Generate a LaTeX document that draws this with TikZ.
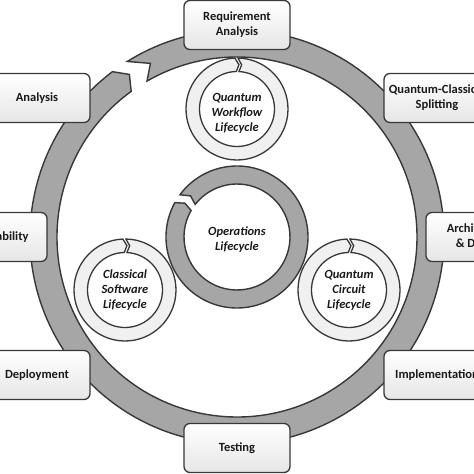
\documentclass[tikz,border=0pt]{standalone}
\usepackage{fontspec}
\setmainfont{Carlito}
\usepackage{tikz}
\usetikzlibrary{positioning, calc}
\definecolor{bordo}{HTML}{383838}
\definecolor{grigioanello}{HTML}{A6A6A6}
\definecolor{grigiochiaro}{HTML}{F0F0F0}
\definecolor{fondobox}{HTML}{E6E6E6}
\tikzset{
  fase/.style = {draw=bordo, line width=1.3pt, rounded corners=6pt,
    minimum width=106pt, minimum height=49pt, top color=white,
    bottom color=fondobox, align=center,
    font=\fontsize{12.5}{15}\selectfont\bfseries, text=black!90},
  ciclo/.style = {align=center,
    font=\fontsize{12.5}{15}\selectfont\bfseries\itshape, text=black!90},
  anellogrande/.style = {fill=grigioanello, draw=bordo, line width=1.4pt, line join=miter},
  anellopiccolo/.style = {fill=grigiochiaro, draw=bordo, line width=1.3pt, line join=miter}
}

\begin{document}
\begin{tikzpicture}[x = 1pt, y = 1pt]

    % Cornice
    \useasboundingbox (-237,-237) rectangle (237,237);
    \clip (-237,-237) rectangle (237,237);

    % Anello esterno
    \filldraw[anellogrande] (122:207) arc[start angle=122, end angle=-233, radius=207]
        -- (-236.5:195) -- (-234:180) arc[start angle=-234, end angle=120, radius=180]
        -- (116.5:194) -- cycle;

    % Fasi
    \node[fase] (req)  at (0,212)    {Requirement\\Analysis};
    \node[fase] (qcs)  at (200,139)  {Quantum-Classical\\Splitting};
    \node[fase] (arch) at (242,0)    {Architecture\\\& Design};
    \node[fase] (impl) at (200,-138) {Implementation};
    \node[fase] (test) at (0,-211)   {Testing};
    \node[fase] (depl) at (-200,-138){Deployment};
    \node[fase] (obs)  at (-243,0)   {Observability};
    \node[fase] (ana)  at (-200,139) {Analysis};

    % Anello operazioni
    \filldraw[anellogrande] (143.5:71) arc[start angle=143.5, end angle=-209, radius=71]
        -- (-213:62) -- (-210:53) arc[start angle=-210, end angle=142, radius=53]
        -- (138.5:62) -- cycle;
    \node[ciclo] (ops) at (0,-3) {Operations\\Lifecycle};

    % Anelli piccoli
    \foreach \cx/\cy in {0/128, -112/-53, 112/-53} {
      \begin{scope}[shift={(\cx,\cy)}]
        \filldraw[anellopiccolo] (89:51) arc[start angle=89, end angle=-267.5, radius=51]
            -- (-272.5:44.5) -- (-269:37.5) arc[start angle=-269, end angle=87, radius=37.5]
            -- (84:44.5) -- cycle;
      \end{scope}
    }
    \node[ciclo] (wf)  at (0,124)    {Quantum\\Workflow\\Lifecycle};
    \node[ciclo] (csw) at (-112,-53) {Classical\\Software\\Lifecycle};
    \node[ciclo] (qc)  at (112,-53)  {Quantum\\Circuit\\Lifecycle};

\end{tikzpicture}
\end{document}
